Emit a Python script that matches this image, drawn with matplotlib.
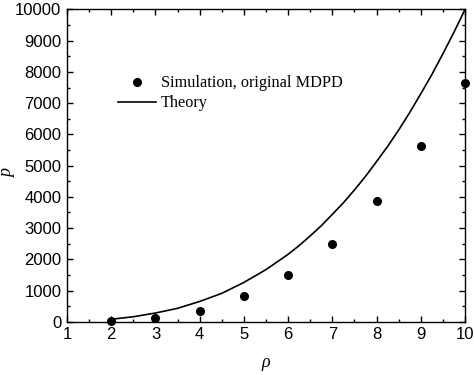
import matplotlib
matplotlib.use("Agg")
import matplotlib.pyplot as plt
from matplotlib.ticker import MultipleLocator

# Simulation points
rho_sim = [2, 3, 4, 5, 6, 7, 8, 9, 10]
p_sim = [30, 130, 360, 820, 1490, 2500, 3860, 5630, 7660]

# Theory curve
rho_th = [2, 2.5, 3, 3.5, 4, 4.5, 5, 5.5, 6, 6.25, 6.5, 6.75, 7, 7.25, 7.5,
          7.75, 8, 8.25, 8.5, 8.75, 9, 9.25, 9.5, 9.75, 10]
p_th = [80, 160, 280, 430, 650, 910, 1260, 1670, 2160, 2440, 2750, 3075,
        3440, 3810, 4220, 4655, 5130, 5615, 6140, 6700, 7300, 7915, 8580,
        9270, 10000]

serif = "Liberation Serif"
sans = "Liberation Sans"

fig = plt.figure(figsize=(4.74, 3.75), dpi=100)
ax = fig.add_axes([0.1414, 0.142, 0.8396, 0.8327])

ax.plot(rho_sim, p_sim, "o", color="black", markersize=5.5, clip_on=False,
        label="Simulation, original MDPD")
ax.plot(rho_th, p_th, "-", color="black", linewidth=1.2, label="Theory")

ax.set_xlim(1, 10)
ax.set_ylim(0, 10000)
ax.xaxis.set_major_locator(MultipleLocator(1))
ax.xaxis.set_minor_locator(MultipleLocator(0.5))
ax.yaxis.set_major_locator(MultipleLocator(1000))
ax.yaxis.set_minor_locator(MultipleLocator(500))
ax.tick_params(which="both", direction="in", top=True, right=True,
               width=1, labelsize=12)
ax.tick_params(which="major", length=4.5, pad=4)
ax.tick_params(which="minor", length=2.5)
for lbl in ax.get_xticklabels() + ax.get_yticklabels():
    lbl.set_fontfamily(sans)
for s in ax.spines.values():
    s.set_linewidth(1)

ax.set_xlabel("ρ", fontsize=13, family=serif, style="italic",
              verticalalignment="baseline")
ax.set_ylabel("p", fontsize=13, family=serif, style="italic",
              verticalalignment="baseline")
ax.xaxis.set_label_coords(0.5, -0.145)
ax.yaxis.set_label_coords(-0.139, 0.476)

ax.legend(loc="upper left", bbox_to_anchor=(0.1125, 0.81), frameon=False,
          prop={"family": serif, "size": 11.7}, handlelength=2.3,
          handletextpad=0.3, labelspacing=0.25, borderaxespad=0)

fig.savefig("out.png", dpi=100)
